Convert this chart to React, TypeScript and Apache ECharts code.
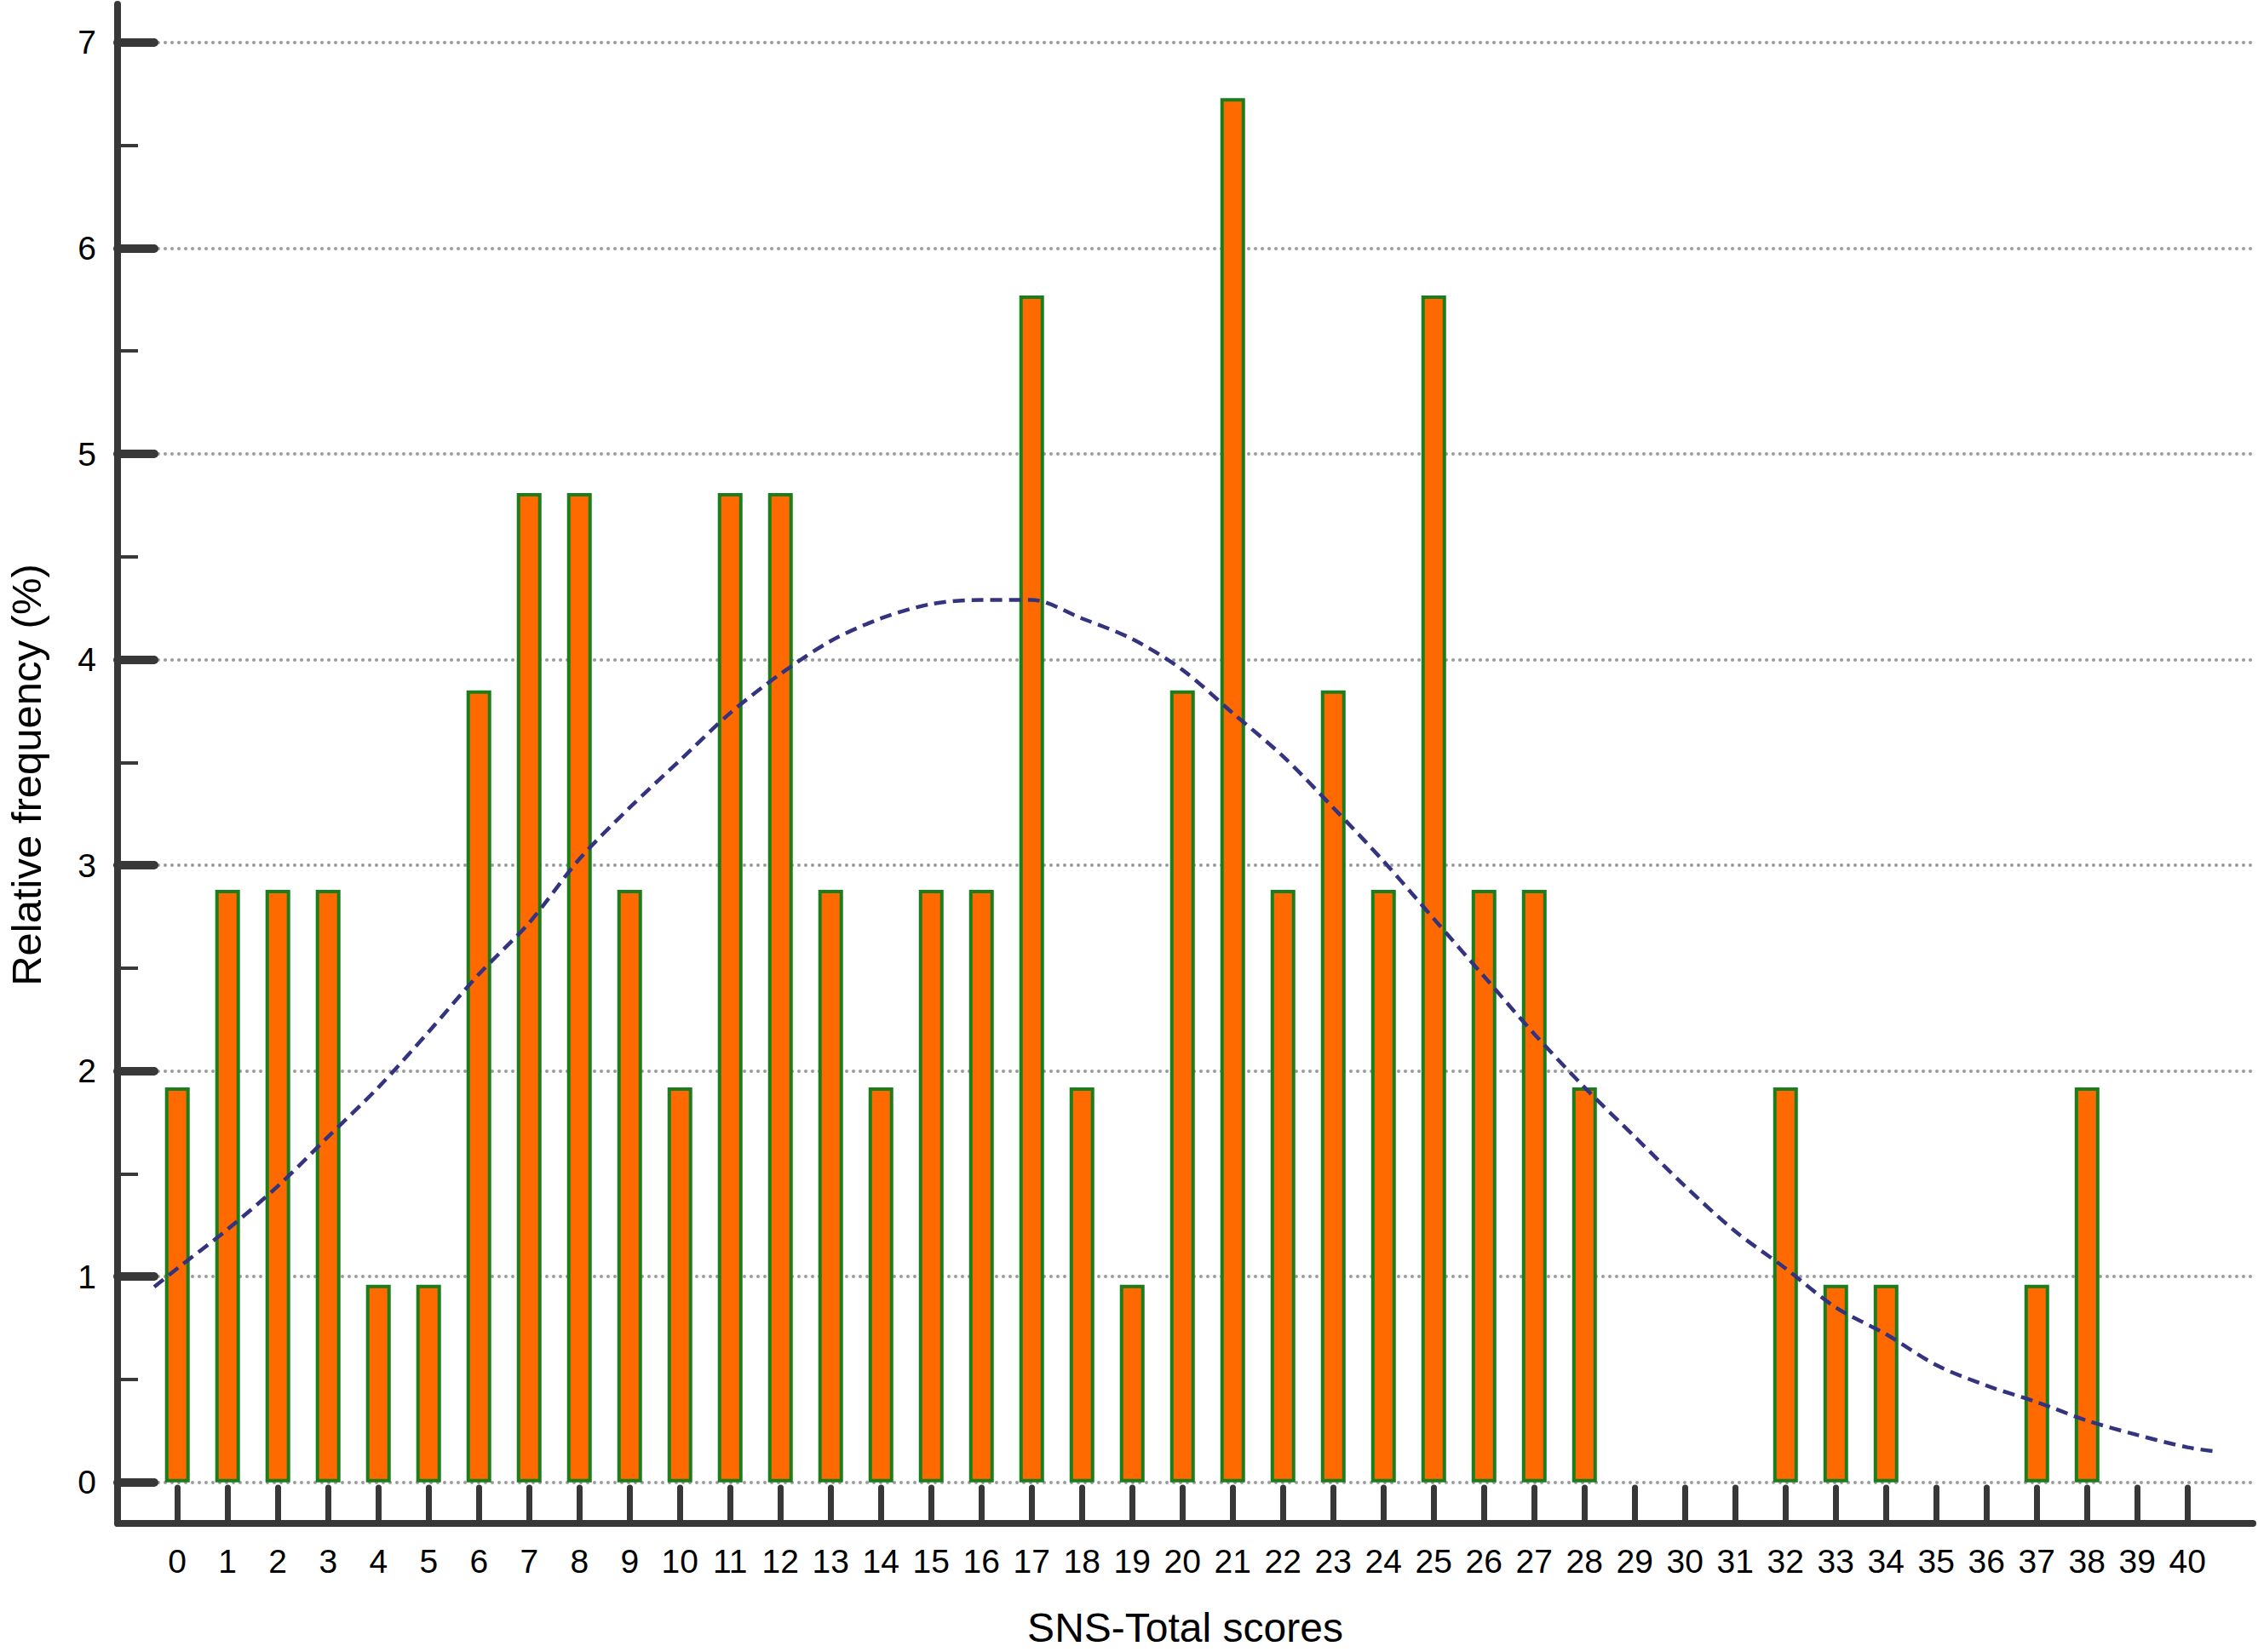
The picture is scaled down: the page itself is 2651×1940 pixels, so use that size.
import React, { useEffect, useRef } from 'react';
import * as echarts from 'echarts';

// SNS-Total score categories
const scores = [0, 1, 2, 3, 4, 5, 6, 7, 8, 9, 10, 11, 12, 13, 14, 15, 16, 17, 18, 19, 20,
    21, 22, 23, 24, 25, 26, 27, 28, 29, 30, 31, 32, 33, 34, 35, 36, 37, 38, 39, 40];

// relative frequency (%) per score
const relFreq = [1.92, 2.88, 2.88, 2.88, 0.96, 0.96, 3.85, 4.81, 4.81, 2.88, 1.92, 4.81, 4.81,
    2.88, 1.92, 2.88, 2.88, 5.77, 1.92, 0.96, 3.85, 6.73, 2.88, 3.85, 2.88, 5.77, 2.88, 2.88,
    1.92, 0, 0, 0, 1.92, 0.96, 0.96, 0, 0, 0.96, 1.92, 0, 0];

// fitted curve (dashed)
const curveX = [-0.46, 0, 1, 2, 3, 4, 5, 6, 7, 8, 9, 10, 11, 12, 13, 14, 15, 16, 17, 18, 19, 20,
    21, 22, 23, 24, 25, 26, 27, 28, 29, 30, 31, 32, 33, 34, 35, 36, 37, 38, 39, 40, 40.57];
const curveY = [0.95, 1.04, 1.23, 1.44, 1.68, 1.92, 2.19, 2.47, 2.72, 3.03, 3.28, 3.51, 3.74,
    3.93, 4.09, 4.2, 4.27, 4.29, 4.29, 4.2, 4.1, 3.95, 3.74, 3.53, 3.28, 3.02, 2.74, 2.46, 2.18,
    1.92, 1.68, 1.44, 1.22, 1.04, 0.85, 0.72, 0.57, 0.47, 0.39, 0.3, 0.23, 0.17, 0.15];

const yTicks = [0, 1, 2, 3, 4, 5, 6, 7];
const yMinorTicks = [0.5, 1.5, 2.5, 3.5, 4.5, 5.5, 6.5];

const AXIS_COLOR = '#383838';
const FONT = "'Liberation Sans', Arial, Helvetica, sans-serif";

const App = () => {
    const chartRef = useRef<HTMLDivElement>(null);

    useEffect(() => {
        if (!chartRef.current) return;
        document.body.style.margin = '0';

        const chart = echarts.init(chartRef.current, null, { renderer: 'svg' });

        const barData = scores
            .map((s, i) => [s, relFreq[i]])
            .filter((d) => d[1] > 0);
        const curveData = curveX.map((x, i) => [x, curveY[i]]);

        const yBase = {
            type: 'value',
            position: 'left',
            min: -0.2,
            max: 7.186,
        };

        const option = {
            animation: false,
            backgroundColor: '#ffffff',
            grid: {
                left: 138,
                right: 6,
                top: 5,
                bottom: 151,
                containLabel: false,
                outerBoundsMode: 'none',
            },
            xAxis: {
                type: 'value',
                min: -1.19,
                max: 41.3,
                name: 'SNS-Total scores',
                nameLocation: 'middle',
                nameGap: 98,
                nameTextStyle: {
                    fontSize: 48,
                    lineHeight: 48,
                    color: '#000',
                    fontFamily: FONT,
                },
                axisLine: {
                    onZero: false,
                    lineStyle: { color: AXIS_COLOR, width: 8, cap: 'round' },
                },
                axisTick: {
                    customValues: scores,
                    inside: true,
                    length: 42,
                    lineStyle: { color: AXIS_COLOR, width: 7, cap: 'round' },
                },
                axisLabel: {
                    customValues: scores,
                    margin: 25,
                    fontSize: 39,
                    lineHeight: 39,
                    color: '#000',
                    fontFamily: FONT,
                },
                splitLine: { show: false },
            },
            yAxis: [
                {
                    ...yBase,
                    name: 'Relative frequency (%)',
                    nameLocation: 'middle',
                    nameGap: 83,
                    nameTextStyle: {
                        fontSize: 49,
                        lineHeight: 49,
                        color: '#000',
                        fontFamily: FONT,
                        padding: [0, 26, 0, 0],
                    },
                    axisLine: {
                        onZero: false,
                        lineStyle: { color: AXIS_COLOR, width: 8, cap: 'round' },
                    },
                    axisTick: {
                        customValues: yTicks,
                        inside: true,
                        length: 43,
                        lineStyle: { color: AXIS_COLOR, width: 10, cap: 'round' },
                    },
                    axisLabel: {
                        customValues: yTicks,
                        margin: 25,
                        fontSize: 39,
                        lineHeight: 39,
                        color: '#000',
                        fontFamily: FONT,
                    },
                    splitLine: {
                        show: true,
                        lineStyle: { color: '#9a9a9a', width: 4, type: [0, 8], cap: 'round' },
                    },
                },
                {
                    ...yBase,
                    axisLine: { show: false, onZero: false },
                    axisLabel: { show: false },
                    splitLine: { show: false },
                    axisTick: {
                        customValues: yMinorTicks,
                        inside: true,
                        length: 24,
                        lineStyle: { color: AXIS_COLOR, width: 4 },
                    },
                },
            ],
            series: [
                {
                    type: 'bar',
                    data: barData,
                    barWidth: 29,
                    itemStyle: {
                        color: '#FF6A00',
                        borderColor: '#1B7D1B',
                        borderWidth: 4,
                    },
                    z: 2,
                },
                {
                    type: 'line',
                    data: curveData,
                    showSymbol: false,
                    smooth: 0.3,
                    lineStyle: { color: '#33337F', width: 4.5, type: [14, 8] },
                    z: 3,
                },
            ],
        };

        chart.setOption(option);

        const handleResize = () => chart.resize();
        window.addEventListener('resize', handleResize);
        return () => {
            chart.dispose();
            window.removeEventListener('resize', handleResize);
        };
    }, []);

    return <div ref={chartRef} style={{ width: '2651px', height: '1940px' }} />;
};

export default App;
